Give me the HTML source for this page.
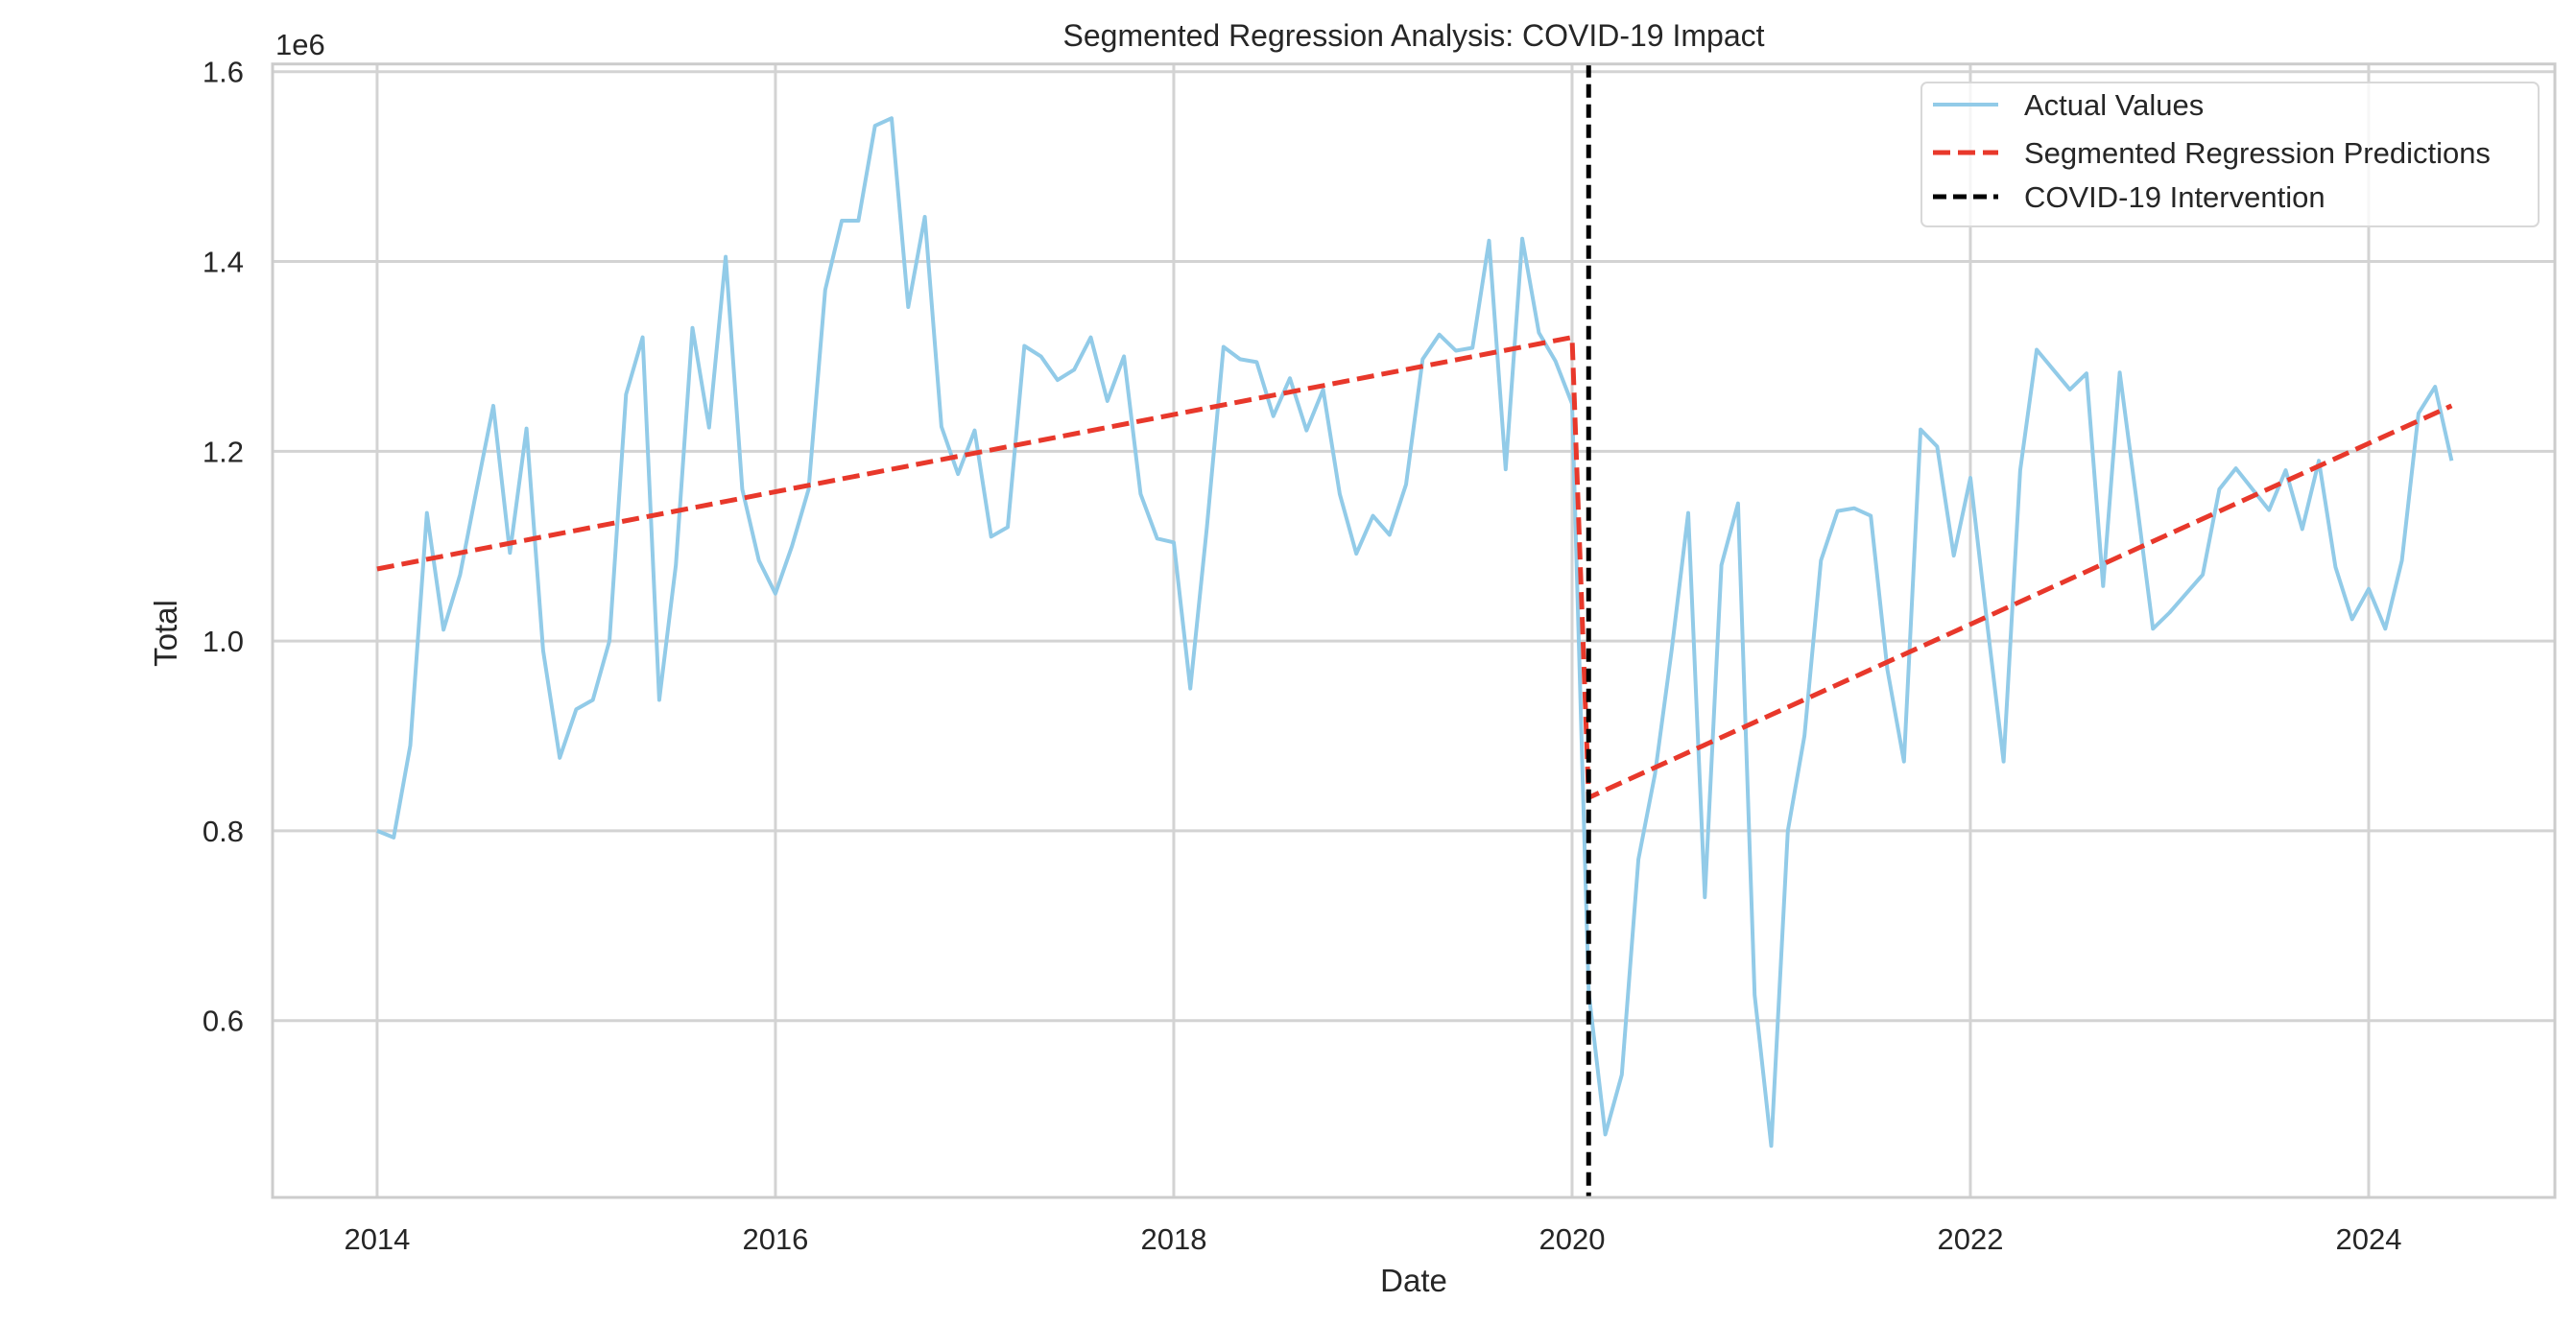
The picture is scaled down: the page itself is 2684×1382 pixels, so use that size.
<!DOCTYPE html>
<html><head><meta charset="utf-8"><style>
html,body{margin:0;padding:0;background:#fff;}
svg{display:block;font-family:"Liberation Sans",Arial,sans-serif;}
</style></head><body>
<svg id="chart" width="2684" height="1382" viewBox="0 0 2684 1382">
<rect x="0" y="0" width="2684" height="1382" fill="#fff"/>
<g id="grid"></g>
<g id="series"></g>
<rect x="284" y="66.7" width="2378" height="1181.3" fill="none" stroke="#cccccc" stroke-width="3"/>
<g id="ticks"></g>
<text x="1473" y="48" font-size="32" fill="#262626" text-anchor="middle">Segmented Regression Analysis: COVID-19 Impact</text>
<text x="1473" y="1346" font-size="33" fill="#262626" text-anchor="middle">Date</text>
<text x="0" y="0" font-size="33" fill="#262626" text-anchor="middle" transform="translate(184,660) rotate(-90)">Total</text>
<text x="287" y="57" font-size="31" fill="#262626">1e6</text>
<g>
<rect x="2002" y="86" width="643" height="150" rx="6" fill="#fff" fill-opacity="0.8" stroke="#d8d8d8" stroke-width="2"/>
<line x1="2014" y1="109" x2="2082" y2="109" stroke="#92cbe8" stroke-width="4"/>
<text x="2109" y="120" font-size="31" fill="#262626">Actual Values</text>
<line x1="2014" y1="159" x2="2082" y2="159" stroke="#e8382b" stroke-width="5" stroke-dasharray="18,8"/>
<text x="2109" y="170" font-size="31" fill="#262626">Segmented Regression Predictions</text>
<line x1="2014" y1="205" x2="2082" y2="205" stroke="#000" stroke-width="5" stroke-dasharray="14,7"/>
<text x="2109" y="216" font-size="31" fill="#262626">COVID-19 Intervention</text>
</g>
</svg>
<script>
// ---- data ----
const startYear = 2014; // first month Jan 2014
const actualValues = [
0.80,0.793,0.89,1.135,1.012,1.07,1.16,1.248,1.093,1.224,0.99,0.877,
0.928,0.938,1.00,1.26,1.32,0.938,1.08,1.33,1.225,1.405,1.16,1.085,
1.05,1.10,1.16,1.37,1.443,1.443,1.543,1.551,1.352,1.447,1.226,1.176,
1.222,1.11,1.12,1.311,1.30,1.275,1.286,1.32,1.253,1.30,1.155,1.108,
1.104,0.95,1.12,1.31,1.297,1.294,1.237,1.277,1.222,1.265,1.155,1.092,
1.132,1.112,1.165,1.297,1.323,1.306,1.309,1.422,1.181,1.424,1.325,1.295,
1.25,0.63,0.48,0.543,0.77,0.86,0.99,1.135,0.73,1.08,1.145,0.627,
0.468,0.80,0.90,1.085,1.137,1.14,1.132,0.97,0.873,1.223,1.205,1.09,
1.172,1.02,0.873,1.18,1.307,1.286,1.265,1.282,1.058,1.283,1.15,1.013,
1.03,1.05,1.07,1.16,1.182,1.16,1.138,1.18,1.118,1.19,1.078,1.023,
1.055,1.013,1.085,1.24,1.268,1.19
];
const predMonths = [0, 72, 73, 125];          // month indices of prediction vertices
const predValues = [1.076, 1.32, 0.835, 1.248]; // predicted values (1e6)
const interventionMonth = 73;                 // Feb 2020
const xTickYears = [2014, 2016, 2018, 2020, 2022, 2024];
const yTickValues = [0.6, 0.8, 1.0, 1.2, 1.4, 1.6];
const yTickLabels = ["0.6", "0.8", "1.0", "1.2", "1.4", "1.6"];

// ---- scales ----
const L = 284, R = 2662, T = 66.7, B = 1248;
const xMin = 2013.475, xMax = 2024.935;
const yMin = 0.4137, yMax = 1.6081;
function xs(t){ return L + (t - xMin) / (xMax - xMin) * (R - L); }
function xm(i){ return xs(startYear + i / 12); }
function ys(v){ return B - (v - yMin) / (yMax - yMin) * (B - T); }

const NS = "http://www.w3.org/2000/svg";
function mk(tag, attrs, parent){
  const e = document.createElementNS(NS, tag);
  for (const k in attrs) e.setAttribute(k, attrs[k]);
  parent.appendChild(e);
  return e;
}
const grid = document.getElementById('grid');
const ticks = document.getElementById('ticks');
const series = document.getElementById('series');

xTickYears.forEach(yr => {
  const x = xs(yr);
  const g = mk('line', {x1:x, x2:x, y1:T, y2:B, stroke:'#d3d3d3', 'stroke-width':3}, grid);
  
  
  const t = mk('text', {x:x, y:1302, 'font-size':31, fill:'#262626', 'text-anchor':'middle'}, ticks);
  t.textContent = String(yr);
  
  
});
yTickValues.forEach((v, i) => {
  const y = ys(v);
  const g = mk('line', {x1:L, x2:R, y1:y, y2:y, stroke:'#d3d3d3', 'stroke-width':3}, grid);
  
  
  const t = mk('text', {x:254, y:y + 11, 'font-size':31, fill:'#262626', 'text-anchor':'end'}, ticks);
  t.textContent = yTickLabels[i];
  
  
});

const actualPts = actualValues.map((v, i) => xm(i).toFixed(1) + ',' + ys(v).toFixed(1)).join(' ');
const actualLine = mk('polyline', {points: actualPts, fill:'none', stroke:'#92cbe8', 'stroke-width':4, 'stroke-linejoin':'round'}, series);



const predPts = predMonths.map((m, i) => xm(m).toFixed(1) + ',' + ys(predValues[i]).toFixed(1)).join(' ');
const predLine = mk('polyline', {points: predPts, fill:'none', stroke:'#e8382b', 'stroke-width':5, 'stroke-dasharray':'18,8'}, series);



const ix = xm(interventionMonth);
const vline = mk('line', {x1:ix, x2:ix, y1:T, y2:B, stroke:'#000', 'stroke-width':5, 'stroke-dasharray':'14,7'}, series);


</script>
</body></html>
